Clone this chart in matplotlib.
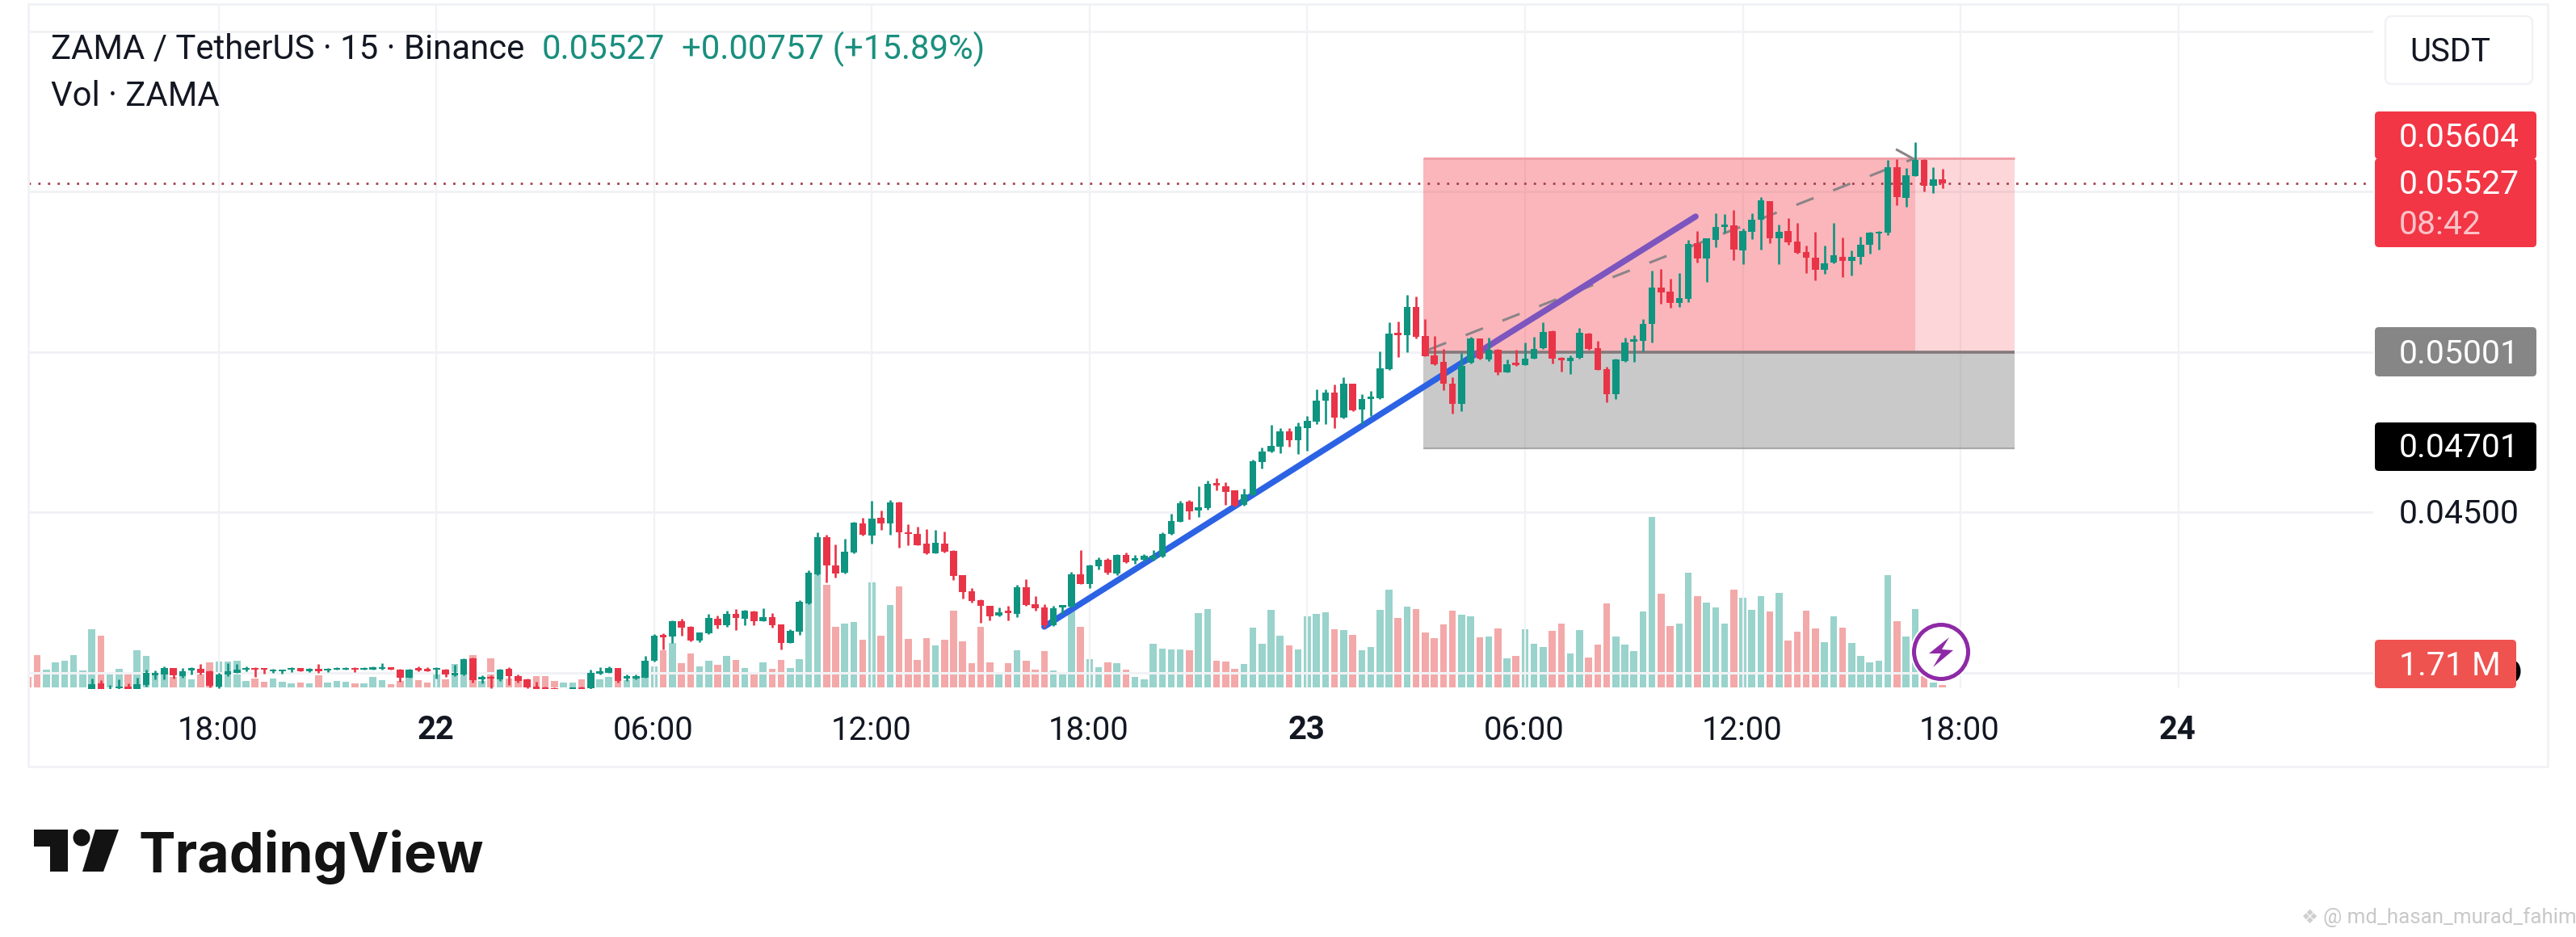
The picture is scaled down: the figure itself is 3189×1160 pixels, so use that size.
import numpy as np
import matplotlib
matplotlib.use('Agg')
import matplotlib.pyplot as plt
from matplotlib.patches import Rectangle, Polygon, Circle, Ellipse, FancyBboxPatch

plt.rcParams['font.family'] = ['Roboto', 'DejaVu Sans']

# candles, prices in 1e-5 USDT (first 7 bars sit below the visible pane)
opens = [3930,3925,3915,3920,3925,3930,3935,
    3948,3967,3944,3952,3957,3948,3961,3992,3994,4014,
    3990,4007,4012,4005,3958,3995,4001,4010,4016,4014,
    4006,4005,4010,4014,4005,4012,4007,4011,4010,4015,
    4010,4011,4012,4017,4010,3985,4016,4012,4011,4011,
    3992,3994,4045,3981,3988,3980,4012,3991,3979,3958,
    3954,3953,3940,3948,3955,3952,3997,4000,4014,3982,
    3982,3985,4038,4118,4113,4161,4143,4101,4124,4170,
    4148,4184,4170,4191,4162,4173,4150,4094,4129,4217,
    4308,4424,4334,4312,4376,4466,4427,4483,4467,4532,
    4439,4434,4402,4374,4402,4381,4304,4255,4227,4208,
    4178,4193,4184,4266,4215,4204,4148,4205,4206,4308,
    4276,4332,4353,4310,4367,4350,4353,4356,4363,4432,
    4472,4533,4506,4515,4592,4583,4568,4523,4555,4657,
    4689,4706,4752,4725,4764,4783,4848,4873,4795,4901,
    4821,4855,
    4857,4946,5060,5053,5141,5050,4990,4969,4901,4840,
    4966,5042,4977,5008,4938,4966,4960,4981,5013,5066,
    4983,4973,4983,5059,5012,4948,4868,4973,5032,5036,
    5087,5202,5188,5153,5166,5339,5292,5351,5391,5396,
    5317,5376,5414,5470,5354,5378,5344,5313,5295,5256,
    5279,5298,5284,5297,5334,5371,5372,5576,5482,5549,
    5599,5518,5538]
highs = [3935,3930,3925,3930,3935,3938,3942,
    3982,3977,3961,3979,3968,3984,4011,4007,4019,4016,
    4014,4017,4028,4007,3999,4030,4027,4019,4017,4016,
    4013,4011,4017,4016,4014,4027,4016,4018,4018,4017,
    4017,4020,4029,4018,4013,4012,4019,4017,4017,4013,
    4025,4045,4047,3993,3993,4012,4017,3994,3982,3972,
    3957,3955,3948,3955,3957,4011,4017,4019,4016,3994,
    3994,4053,4120,4123,4163,4168,4145,4126,4184,4178,
    4194,4200,4196,4194,4202,4186,4152,4135,4226,4319,
    4438,4430,4400,4418,4470,4483,4536,4506,4540,4533,
    4464,4456,4448,4447,4441,4383,4306,4264,4230,4210,
    4204,4208,4275,4291,4240,4214,4210,4212,4315,4383,
    4337,4359,4357,4370,4376,4368,4370,4383,4438,4497,
    4536,4538,4583,4600,4607,4595,4570,4574,4664,4702,
    4774,4763,4763,4780,4801,4883,4885,4899,4922,4902,
    4869,4879,
    5002,5092,5095,5179,5175,5103,5051,5011,4923,4998,
    5049,5044,5045,5011,4978,5007,5029,5049,5092,5067,
    4984,4990,5076,5061,5035,4955,4980,5045,5053,5103,
    5255,5260,5229,5246,5349,5378,5356,5433,5431,5444,
    5386,5433,5484,5471,5397,5418,5402,5333,5375,5333,
    5402,5358,5317,5360,5376,5378,5599,5601,5574,5655,
    5601,5578,5572]
lows = [3920,3910,3910,3915,3920,3925,3930,
    3944,3944,3940,3948,3945,3945,3958,3980,3980,3982,
    3985,3994,3994,3955,3952,3991,3999,4006,3987,3997,
    4000,3997,4002,4005,4002,4000,4003,4010,4009,4002,
    4009,4010,4010,4010,3972,3984,4005,4005,3982,3987,
    3990,3992,3969,3967,3953,3975,3963,3971,3952,3948,
    3947,3947,3938,3946,3946,3950,3995,3999,3971,3975,
    3980,3984,4036,4073,4094,4116,4099,4095,4122,4138,
    4143,4133,4148,4148,4160,4140,4073,4092,4118,4214,
    4304,4283,4297,4310,4374,4428,4404,4447,4430,4391,
    4398,4397,4369,4373,4376,4289,4232,4219,4157,4164,
    4177,4164,4175,4209,4195,4140,4146,4183,4204,4276,
    4265,4323,4308,4304,4343,4340,4347,4350,4361,4430,
    4470,4479,4487,4510,4568,4523,4519,4521,4553,4638,
    4687,4685,4706,4683,4693,4776,4776,4764,4794,4815,
    4776,4801,
    4855,4944,4986,5001,5042,4987,4960,4881,4809,4817,
    4965,4977,4973,4929,4937,4956,4959,4979,5010,4965,
    4939,4933,4981,5008,4944,4843,4854,4969,4971,5002,
    5030,5150,5139,5141,5156,5280,5219,5328,5372,5286,
    5275,5353,5321,5339,5274,5336,5307,5246,5225,5245,
    5278,5234,5239,5275,5307,5321,5364,5459,5454,5548,
    5500,5497,5512]
closes = [3925,3915,3920,3925,3930,3935,3940,
    3965,3948,3950,3957,3948,3965,3999,3999,4016,3992,
    4006,4014,3999,3959,3996,4005,4010,4016,4010,4009,
    4011,4010,4016,4006,4012,4006,4012,4016,4016,4009,
    4016,4017,4017,4011,3985,4011,4007,4006,4016,3994,
    3999,4044,3977,3988,3982,4011,3991,3975,3954,3950,
    3948,3948,3947,3954,3948,3999,4005,4014,3975,3990,
    3989,4039,4116,4112,4161,4141,4101,4125,4171,4148,
    4184,4172,4194,4161,4175,4148,4094,4132,4221,4313,
    4423,4336,4310,4378,4468,4430,4481,4467,4532,4438,
    4432,4398,4373,4406,4379,4303,4253,4224,4208,4177,
    4190,4186,4268,4211,4202,4148,4202,4211,4308,4278,
    4335,4353,4312,4367,4344,4357,4364,4366,4432,4474,
    4530,4505,4517,4589,4585,4563,4521,4556,4660,4691,
    4708,4752,4725,4768,4786,4849,4874,4795,4901,4819,
    4853,4861,
    4950,5057,5054,5141,5049,4988,4963,4901,4840,4958,
    5042,4979,5007,4938,4963,4959,4981,5011,5064,4981,
    4976,4983,5060,5011,4945,4870,4977,5029,5040,5087,
    5202,5187,5154,5168,5338,5292,5354,5390,5398,5319,
    5378,5414,5473,5354,5375,5343,5309,5294,5257,5278,
    5302,5284,5297,5336,5372,5376,5576,5484,5551,5599,
    5519,5538,5527]

# volume in millions
volumes = [6.3,20,11,15.5,16.5,20,10.5,36,32,8.5,
    11.5,8,23,19.5,7.5,8,6.3,7.2,5,10.5,
    15.5,16,16,16.5,4,5.5,3.5,5.5,3.5,2.5,
    3,2.5,7.5,3,4,3.5,2.5,2.5,6.5,4.5,
    2,3.8,6,4.5,3,8,5,14.3,8,20,
    3.8,18,5.5,5.5,5.5,4.7,7,7,4,3,
    3,5,5,5,6.5,3.8,4.5,5.5,6.3,13,
    23,27.5,15,21,13,16.5,14,19.5,17,12,
    9,15.5,11.5,17,12,17.5,52,70,63.7,37.3,
    39.7,40.7,29.7,65.2,31.8,50.8,62.3,30.2,17,30.7,
    25.8,29.7,47.3,28.7,14.9,37.3,15.4,7.8,14.9,22.8,
    16.7,11,22.3,10.3,7.8,47.5,37.3,17.7,12.3,15.4,
    14.9,11,6.3,5.2,27.2,23.8,23.3,23.3,22.8,45.8,
    48.3,16.7,16.2,11.5,14.4,36.8,27.2,47.8,31.8,25.8,
    23.3,43.8,45.3,46.3,35.8,35.3,32.3,22.8,24.8,47.8,
    60.3,42.8,49.8,48.3,33.8,30.3,38.8,47.3,44.8,43.8,
    30.8,31.3,36.3,17.8,19.3,35.8,26.8,24.8,34.8,39.3,
    20.8,35.3,18.3,26.3,51.8,31.3,26.3,22.3,46.8,105.3,
    57.8,37.8,39.3,70.8,56.3,52.3,49.3,39.3,60.3,55.3,
    47.8,56.3,46.8,58.3,28.8,34.3,47.3,36.3,27.8,43.8,
    36.8,27.3,19.3,15.3,16.3,69.3,40.8,31.3,48.3,7,2.8,1.71]

time_ticks = [21, 45, 69, 93, 117, 141, 165, 189, 213, 237]
time_labels = ['18:00', '22', '06:00', '12:00', '18:00', '23', '06:00', '12:00', '18:00', '24']
bold_labels = ['22', '23', '24']
price_grid = [0.04, 0.045, 0.05, 0.055, 0.06]

# drawings on the chart
pos_start, pos_now, pos_end = 153.8, 208, 219
target, entry, stop = 0.05604, 0.05001, 0.04701
last_price = 0.05527
blue_x, blue_y = [112, 159.6], [0.04144, 0.04995]
purple_x, purple_y = [159.6, 183.8], [0.04995, 0.05423]
dash_x, dash_y = [154.4, 207.8], [0.05008, 0.05603]
dash_head_x, dash_head_y = [207.8, 206], [0.05603, 0.05631]

TEAL = '#0f9480'
RED = '#e93448'
VOL_TEAL = '#99d3cc'
VOL_RED = '#f3a9a9'
GRID = '#f1f2f5'

W, H = 3189, 1160
fig = plt.figure(figsize=(W / 100, H / 100), dpi=100, facecolor='white')

def box(left, top, right, bottom):
    return [left / W, 1 - bottom / H, (right - left) / W, (bottom - top) / H]

x = np.arange(len(opens))
o = np.array(opens) / 1e5
h = np.array(highs) / 1e5
l = np.array(lows) / 1e5
c = np.array(closes) / 1e5
up = c >= o
xlim = (0, 258.5)

# volume pane
ax_vol = fig.add_axes(box(35, 5, 2938, 851), zorder=1)
ax_vol.set_xlim(xlim)
ax_vol.set_ylim(0, 423)
ax_vol.axis('off')
ax_vol.bar(x, volumes, width=0.76, color=[VOL_TEAL if u else VOL_RED for u in up], linewidth=0)

# price pane
ax = fig.add_axes(box(35, 5, 2938, 853), zorder=2)
ax.patch.set_alpha(0)
ax.set_xlim(xlim)
ax.set_ylim(0.039496, 0.060856)
ax.axis('off')

for t in time_ticks:
    ax.plot([t, t], [0.03955, 0.060856], color=GRID, lw=1.6, zorder=0)
for p in price_grid:
    ax.axhline(p, color=GRID, lw=2.2, zorder=0)

# position tool
ax.add_patch(Rectangle((pos_start, entry), pos_end - pos_start, target - entry, color='#f23645', alpha=0.2, lw=0, zorder=1))
ax.add_patch(Rectangle((pos_start, entry), pos_now - pos_start, target - entry, color='#f23645', alpha=0.2, lw=0, zorder=1))
ax.add_patch(Rectangle((pos_start, stop), pos_end - pos_start, entry - stop, color='#808080', alpha=0.42, lw=0, zorder=1))
ax.plot([pos_start, pos_end], [target, target], color='#f0a0a8', lw=2.2, zorder=1.5, solid_capstyle='butt')
ax.plot([pos_start, pos_end], [entry, entry], color='#83787a', lw=2.6, zorder=1.5, solid_capstyle='butt')
ax.plot([pos_start, pos_end], [stop, stop], color='#a8a8a8', lw=1.6, zorder=1.5, solid_capstyle='butt')

# trend lines, below the candles
ax.plot(dash_x, dash_y, color='#8b8487', lw=2.2, dashes=(7.5, 8.5), zorder=2)
ax.plot(dash_head_x, dash_head_y, color='#8b8487', lw=2.2, zorder=2)
ax.plot(blue_x, blue_y, color='#2c62e4', lw=5.4, solid_capstyle='round', zorder=2.2)
ax.plot(purple_x, purple_y, color='#7c55bf', lw=5.4, solid_capstyle='round', zorder=2.2)
ax.axhline(last_price, color='#a5404e', lw=2, dashes=(1, 3.3), zorder=2.1)

# candles
colors = [TEAL if u else RED for u in up]
ax.vlines(x, l, h, colors=colors, lw=1.9, zorder=3)
ax.bar(x, np.abs(c - o), bottom=np.minimum(o, c), width=0.76, color=colors, linewidth=0, zorder=3)

# everything else is placed in image pixels
top = fig.add_axes([0, 0, 1, 1], zorder=3)
top.patch.set_alpha(0)
top.set_xlim(0, W)
top.set_ylim(H, 0)
top.axis('off')

# outer frame
top.plot([35, 35, 3154, 3154], [5, 949, 949, 5], color=GRID, lw=2)
top.plot([35, 3154], [5, 5], color=GRID, lw=2)
top.add_patch(FancyBboxPatch((2953, 20), 182, 84, boxstyle='round,pad=0,rounding_size=8',
                             fc='white', ec='#f1f2f5', lw=1.8))
top.text(3033, 65, 'USDT', fontsize=28.8, ha='center', va='center', color='#131722')

# header
top.text(63, 73, 'ZAMA / TetherUS · 15 · Binance', fontsize=30.2, color='#131722')
top.text(671, 73, '0.05527', fontsize=30.2, color='#1a8f7e')
top.text(844, 73, '+0.00757 (+15.89%)', fontsize=30.2, color='#1a8f7e')
top.text(63, 131, 'Vol · ZAMA', fontsize=30.2, color='#131722')

# time axis
for t, lab in zip(time_ticks, time_labels):
    tx = 35 + t * (2938 - 35) / (xlim[1] - xlim[0])
    top.text(tx - 1, 904, lab, fontsize=28.8, ha='center', va='center', color='#131722',
             fontweight='bold' if lab in bold_labels else 'normal')

# price scale
LABEL_X = 2970
top.text(LABEL_X, 636, '0.04500', fontsize=29.5, va='center', color='#131722')
# sliver of the covered tick label, sticking out behind the volume tag
top.add_patch(Ellipse((3111, 831), 19, 27, fc='black', ec='none', zorder=0.5))

def tag(y0, y1, color, right=3140):
    top.add_patch(FancyBboxPatch((2940, y0), right - 2940, y1 - y0, boxstyle='round,pad=0,rounding_size=5',
                                 fc=color, ec='none', zorder=1))

tag(138, 197, '#f23645')
tag(196, 306, '#f23645')
tag(405, 466, '#868686')
tag(523, 583, '#000000')
tag(792, 852, '#ef5350', right=3115)
top.text(LABEL_X, 170, '0.05604', fontsize=29.5, va='center', color='white')
top.text(LABEL_X, 228, '0.05527', fontsize=29.5, va='center', color='white')
top.text(LABEL_X, 279, '08:42', fontsize=29.5, va='center', color='#fbc2c8')
top.text(LABEL_X, 438, '0.05001', fontsize=29.5, va='center', color='white')
top.text(LABEL_X, 555, '0.04701', fontsize=29.5, va='center', color='white')
top.text(LABEL_X, 824, '1.71 M', fontsize=29.5, va='center', color='white')

# lightning badge
top.add_patch(Circle((2403, 807), 38, fc='white', ec='none'))
top.add_patch(Circle((2403, 807), 33.5, fc='white', ec='#8e2aa6', lw=3.6))
bolt = np.array([[10, -18], [-15, 2], [0, 2], [-10, 19], [15, -2], [1, -3]]) + [2403, 807]
top.add_patch(Polygon(bolt, closed=True, fc='#8e2aa6', ec='none'))

# logo
LOGO = '#131313'
top.add_patch(Polygon([[42, 1027], [84, 1027], [84, 1079], [62, 1079], [62, 1048], [42, 1048]], fc=LOGO, ec='none'))
top.add_patch(Circle((101, 1037), 10.5, fc=LOGO, ec='none'))
top.add_patch(Polygon([[118, 1027], [147, 1027], [128, 1079], [102, 1079]], fc=LOGO, ec='none'))
top.text(171, 1080, 'TradingView', fontsize=49, family='Inter', fontweight='bold', color=LOGO)

# watermark
top.text(2859, 1136, '❖', fontsize=17, ha='center', va='center', color='#cfcfcf', family='DejaVu Sans')
top.text(2876, 1136, '@ md_hasan_murad_fahim', fontsize=18.6, va='center', color='#c9c9c9')

fig.savefig('out.png', dpi=100)
